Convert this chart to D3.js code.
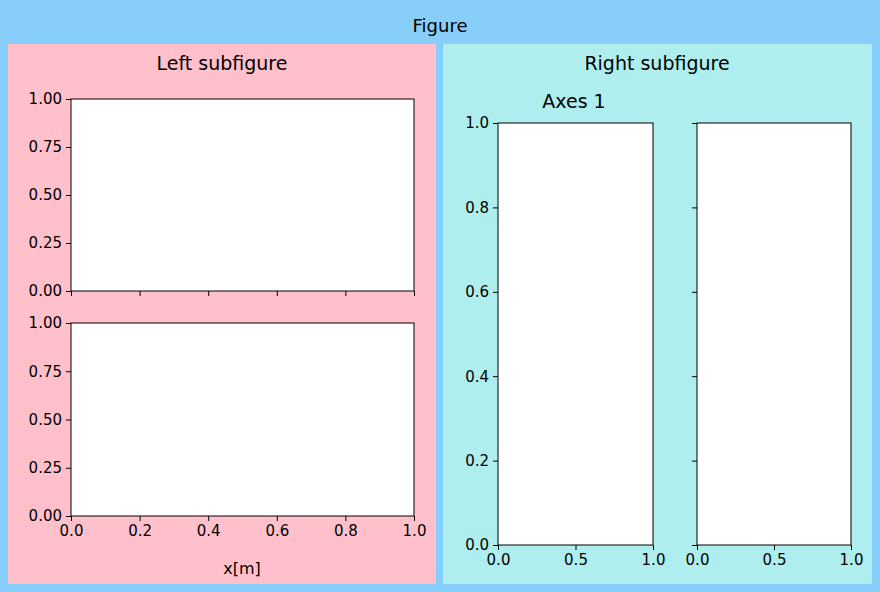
<!DOCTYPE html>
<html><head><meta charset="utf-8">
<script src="https://cdn.jsdelivr.net/npm/d3@7"></script>
<style>body{margin:0}svg{display:block;font-family:"DejaVu Sans",sans-serif}</style>
</head><body><svg id="c" width="880" height="592"></svg>
<script>
const figTitle = "Figure";
const subTitles = ["Left subfigure", "Right subfigure"];
const leftYTicks = [0, 0.25, 0.5, 0.75, 1.0];
const leftXTicks = [0, 0.2, 0.4, 0.6, 0.8, 1.0];
const rightYTicks = [0, 0.2, 0.4, 0.6, 0.8, 1.0];
const rightXTicks = [0, 0.5, 1.0];
const xLabel = "x[m]";
const axesTitle = "Axes 1";

const svg = d3.select("#c");
svg.append("rect").attr("width",880).attr("height",592).attr("fill","#87cefa");
svg.append("text").attr("x",440).attr("y",32).attr("text-anchor","middle").attr("font-size",18).text(figTitle);
svg.append("rect").attr("x",8).attr("y",44).attr("width",428).attr("height",540).attr("fill","#ffc0cb");
svg.append("rect").attr("x",443).attr("y",44).attr("width",429).attr("height",540).attr("fill","#afeeee");
svg.append("text").attr("x",222).attr("y",70).attr("text-anchor","middle").attr("font-size",19).text(subTitles[0]);
svg.append("text").attr("x",657).attr("y",70).attr("text-anchor","middle").attr("font-size",19).text(subTitles[1]);

function panel(x0,x1,y0,y1,xt,yt,xfmt,yfmt,showX,showY){
  const x=d3.scaleLinear().domain([0,1]).range([x0,x1]);
  const y=d3.scaleLinear().domain([0,1]).range([y1,y0]);
  svg.append("rect").attr("x",x0).attr("y",y0).attr("width",x1-x0).attr("height",y1-y0).attr("fill","#fff");
  const gx=svg.append("g").attr("transform",`translate(0,${y1})`)
    .call(d3.axisBottom(x).tickValues(xt).tickFormat(showX?d3.format(xfmt):"").tickSize(5).tickPadding(4));
  const gy=svg.append("g").attr("transform",`translate(${x0},0)`)
    .call(d3.axisLeft(y).tickValues(yt).tickFormat(showY?d3.format(yfmt):"").tickSize(5).tickPadding(4));
  [gx,gy].forEach(g=>{g.select(".domain").remove();g.selectAll("text").attr("font-size",15).attr("font-family","DejaVu Sans").attr("fill","#000");g.selectAll("line").attr("stroke","#000");});
  svg.append("rect").attr("x",x0).attr("y",y0).attr("width",x1-x0).attr("height",y1-y0).attr("fill","none").attr("stroke","#000").attr("stroke-width",1);
}
panel(71,414,99,291,leftXTicks,leftYTicks,".1f",".2f",false,true);
panel(71,414,323,516,leftXTicks,leftYTicks,".1f",".2f",true,true);
svg.append("text").attr("x",242).attr("y",574).attr("text-anchor","middle").attr("font-size",16).text(xLabel);
panel(498,653,123,545,rightXTicks,rightYTicks,".1f",".1f",true,true);
panel(697,851,123,545,rightXTicks,rightYTicks,".1f",".1f",true,false);
svg.append("text").attr("x",574).attr("y",108).attr("text-anchor","middle").attr("font-size",19).text(axesTitle);
</script></body></html>
